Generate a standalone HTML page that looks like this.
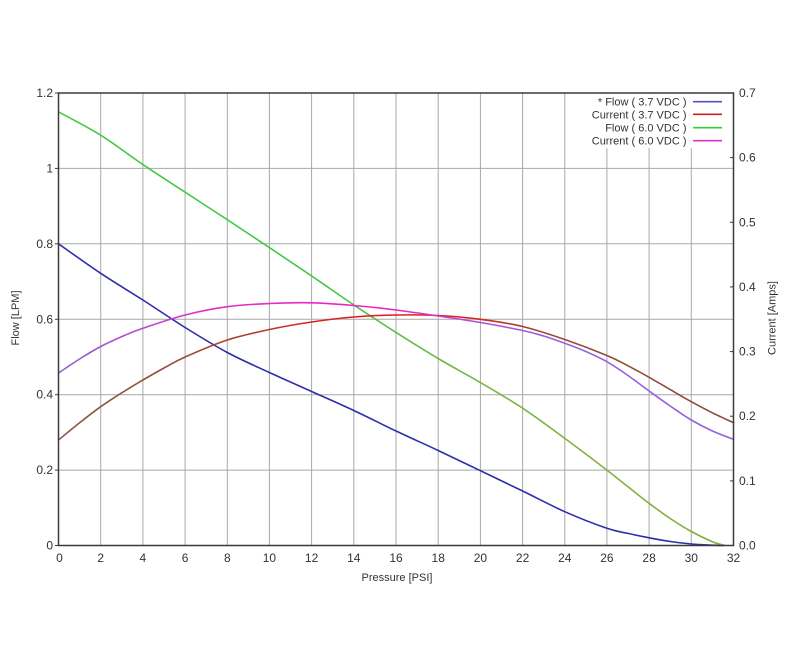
<!DOCTYPE html>
<html>
<head>
<meta charset="utf-8">
<style>
html,body{margin:0;padding:0;background:#fff;}
svg{display:block;}
text{font-family:"Liberation Sans",Arial,sans-serif;fill:#333;}
</style>
</head>
<body>
<svg id="chart" width="800" height="650" viewBox="0 0 800 650" xmlns="http://www.w3.org/2000/svg">
<defs>
<linearGradient id="gRed" gradientUnits="userSpaceOnUse" x1="58.5" y1="0" x2="733.5" y2="0">
<stop offset="0" stop-color="#8a5846"/>
<stop offset="0.2" stop-color="#9a4a3a"/>
<stop offset="0.35" stop-color="#c83028"/>
<stop offset="0.45" stop-color="#e41a1a"/>
<stop offset="0.62" stop-color="#d82222"/>
<stop offset="0.72" stop-color="#9a4a3a"/>
<stop offset="1" stop-color="#8b4a3c"/>
</linearGradient>
<linearGradient id="gMag" gradientUnits="userSpaceOnUse" x1="58.5" y1="0" x2="733.5" y2="0">
<stop offset="0" stop-color="#8a62d0"/>
<stop offset="0.12" stop-color="#b04ed0"/>
<stop offset="0.22" stop-color="#e030c8"/>
<stop offset="0.5" stop-color="#ec22cc"/>
<stop offset="0.62" stop-color="#b050d8"/>
<stop offset="0.75" stop-color="#9a62dc"/>
<stop offset="1" stop-color="#9262e0"/>
</linearGradient>
<linearGradient id="gGrn" gradientUnits="userSpaceOnUse" x1="58.5" y1="0" x2="733.5" y2="0">
<stop offset="0" stop-color="#40cc40"/>
<stop offset="0.42" stop-color="#44c844"/>
<stop offset="0.58" stop-color="#74b844"/>
<stop offset="0.8" stop-color="#84b040"/>
<stop offset="1" stop-color="#88ac38"/>
</linearGradient>
</defs>

<!-- grid -->
<g stroke="#a8a8a8" stroke-width="1" fill="none">
<line x1="100.7" y1="93" x2="100.7" y2="545.5"/>
<line x1="142.9" y1="93" x2="142.9" y2="545.5"/>
<line x1="185.1" y1="93" x2="185.1" y2="545.5"/>
<line x1="227.3" y1="93" x2="227.3" y2="545.5"/>
<line x1="269.4" y1="93" x2="269.4" y2="545.5"/>
<line x1="311.6" y1="93" x2="311.6" y2="545.5"/>
<line x1="353.8" y1="93" x2="353.8" y2="545.5"/>
<line x1="396.0" y1="93" x2="396.0" y2="545.5"/>
<line x1="438.2" y1="93" x2="438.2" y2="545.5"/>
<line x1="480.4" y1="93" x2="480.4" y2="545.5"/>
<line x1="522.6" y1="93" x2="522.6" y2="545.5"/>
<line x1="564.8" y1="93" x2="564.8" y2="545.5"/>
<line x1="606.9" y1="93" x2="606.9" y2="545.5"/>
<line x1="649.1" y1="93" x2="649.1" y2="545.5"/>
<line x1="691.3" y1="93" x2="691.3" y2="545.5"/>
<line x1="58.5" y1="470.1" x2="733.5" y2="470.1"/>
<line x1="58.5" y1="394.7" x2="733.5" y2="394.7"/>
<line x1="58.5" y1="319.3" x2="733.5" y2="319.3"/>
<line x1="58.5" y1="243.8" x2="733.5" y2="243.8"/>
<line x1="58.5" y1="168.4" x2="733.5" y2="168.4"/>
</g>

<!-- legend background -->
<rect x="589" y="94" width="143.5" height="54" fill="#fff"/>

<!-- series -->
<g id="series" fill="none" stroke-width="1.6" stroke-linejoin="round" stroke-linecap="round">
<polyline stroke="#2e2eaa" points="58.5,243.8 100.7,273.3 142.9,300 185.1,327.5 227.3,352.5 269.4,372.5 311.6,391.5 353.8,410.5 396.0,431 438.2,450.5 480.4,470.7 522.6,491 564.8,511.7 606.9,528.3 628,533.4 649.1,537.8 670.2,541.5 691.3,544 712.4,545.2 723,545.5"/>
<polyline stroke="url(#gGrn)" points="58.5,111.9 100.7,135.2 142.9,164.6 185.1,192.2 227.3,219.7 269.4,247.6 311.6,275.9 353.8,304.9 396.0,332.4 438.2,358.5 480.4,382.6 522.6,408.2 564.8,438.4 606.9,470.1 628,486.8 649.1,503.3 670.2,518.5 691.3,531.5 712.4,541.7 725,545.5"/>
<polyline stroke="url(#gRed)" points="58.5,440 79.6,422.8 100.7,406.7 121.8,392.8 142.9,380 164,368 185.1,357 227.3,340 269.4,329.5 311.6,322 353.8,317 396.0,315 438.2,315.5 480.4,319.3 522.6,326.5 564.8,339.5 606.9,355.5 628,365.8 649.1,377.3 670.2,389.6 691.3,401.7 712.4,412.8 733.5,422.7"/>
<polyline stroke="url(#gMag)" points="58.5,373 79.6,359 100.7,346.5 121.8,336.6 142.9,328.3 185.1,315 227.3,306.7 269.4,303.5 311.6,302.8 353.8,305.5 396.0,310 438.2,316 480.4,322.5 522.6,330.5 543.7,336 564.8,343.3 585.8,351.5 606.9,361.7 628,375.5 649.1,391 670.2,406 691.3,420 712.4,431 733.5,439.3"/>
</g>

<!-- frame -->
<rect x="58.5" y="93" width="675" height="452.5" fill="none" stroke="#3a3a3a" stroke-width="1.5"/>

<!-- ticks -->
<g stroke="#3a3a3a" stroke-width="1">
<line x1="55" y1="545.5" x2="58.5" y2="545.5"/>
<line x1="55" y1="470.1" x2="58.5" y2="470.1"/>
<line x1="55" y1="394.7" x2="58.5" y2="394.7"/>
<line x1="55" y1="319.3" x2="58.5" y2="319.3"/>
<line x1="55" y1="243.8" x2="58.5" y2="243.8"/>
<line x1="55" y1="168.4" x2="58.5" y2="168.4"/>
<line x1="55" y1="93" x2="58.5" y2="93"/>
<line x1="730" y1="480.9" x2="733.5" y2="480.9"/>
<line x1="730" y1="416.2" x2="733.5" y2="416.2"/>
<line x1="730" y1="351.6" x2="733.5" y2="351.6"/>
<line x1="730" y1="286.9" x2="733.5" y2="286.9"/>
<line x1="730" y1="222.3" x2="733.5" y2="222.3"/>
<line x1="730" y1="157.6" x2="733.5" y2="157.6"/>
</g>

<!-- left labels -->
<g font-size="12" text-anchor="end">
<text x="53" y="549.5">0</text>
<text x="53" y="474.1">0.2</text>
<text x="53" y="398.7">0.4</text>
<text x="53" y="323.3">0.6</text>
<text x="53" y="247.8">0.8</text>
<text x="53" y="172.4">1</text>
<text x="53" y="97">1.2</text>
</g>

<!-- right labels -->
<g font-size="12" text-anchor="start">
<text x="739" y="549.5">0.0</text>
<text x="739" y="484.9">0.1</text>
<text x="739" y="420.2">0.2</text>
<text x="739" y="355.6">0.3</text>
<text x="739" y="290.9">0.4</text>
<text x="739" y="226.3">0.5</text>
<text x="739" y="161.6">0.6</text>
<text x="739" y="97">0.7</text>
</g>

<!-- bottom labels -->
<g font-size="12" text-anchor="middle">
<text x="59.5" y="562">0</text>
<text x="100.7" y="562">2</text>
<text x="142.9" y="562">4</text>
<text x="185.1" y="562">6</text>
<text x="227.3" y="562">8</text>
<text x="269.4" y="562">10</text>
<text x="311.6" y="562">12</text>
<text x="353.8" y="562">14</text>
<text x="396.0" y="562">16</text>
<text x="438.2" y="562">18</text>
<text x="480.4" y="562">20</text>
<text x="522.6" y="562">22</text>
<text x="564.8" y="562">24</text>
<text x="606.9" y="562">26</text>
<text x="649.1" y="562">28</text>
<text x="691.3" y="562">30</text>
<text x="733.5" y="562">32</text>
</g>

<!-- axis titles -->
<text x="397" y="581" font-size="11" text-anchor="middle">Pressure [PSI]</text>
<text x="0" y="0" font-size="11" text-anchor="middle" transform="translate(19,318) rotate(-90)">Flow [LPM]</text>
<text x="0" y="0" font-size="11" text-anchor="middle" transform="translate(775.5,318) rotate(-90)">Current [Amps]</text>

<!-- legend -->
<g font-size="11" text-anchor="end">
<text x="686.5" y="105.5">* Flow ( 3.7 VDC )</text>
<text x="686.5" y="118.3">Current ( 3.7 VDC )</text>
<text x="686.5" y="131.5">Flow ( 6.0 VDC )</text>
<text x="686.5" y="144.5">Current ( 6.0 VDC )</text>
</g>
<g stroke-width="1.6">
<line x1="693" y1="101.7" x2="722" y2="101.7" stroke="#5050d0"/>
<line x1="693" y1="114.3" x2="722" y2="114.3" stroke="#cc2222"/>
<line x1="693" y1="127.7" x2="722" y2="127.7" stroke="#38cc38"/>
<line x1="693" y1="140.7" x2="722" y2="140.7" stroke="#dd33cc"/>
</g>
</svg>
<script>
(function(){
  try{
    var NS="http://www.w3.org/2000/svg";
    var g=document.getElementById("series");
    var pls=g.querySelectorAll("polyline");
    for(var k=0;k<pls.length;k++){
      var pl=pls[k];
      var pts=pl.getAttribute("points").trim().split(/\s+/).map(function(s){var a=s.split(",");return [parseFloat(a[0]),parseFloat(a[1])];});
      var n=pts.length;
      var d="M"+pts[0][0]+","+pts[0][1];
      for(var i=0;i<n-1;i++){
        var p0=pts[i>0?i-1:i],p1=pts[i],p2=pts[i+1],p3=pts[i+2<n?i+2:i+1];
        var c1x=p1[0]+(p2[0]-p0[0])/6,c1y=p1[1]+(p2[1]-p0[1])/6;
        var c2x=p2[0]-(p3[0]-p1[0])/6,c2y=p2[1]-(p3[1]-p1[1])/6;
        d+=" C"+c1x.toFixed(2)+","+c1y.toFixed(2)+" "+c2x.toFixed(2)+","+c2y.toFixed(2)+" "+p2[0]+","+p2[1];
      }
      var path=document.createElementNS(NS,"path");
      path.setAttribute("d",d);
      path.setAttribute("stroke",pl.getAttribute("stroke"));
      g.replaceChild(path,pl);
    }
  }catch(e){}
})();
</script>
</body>
</html>
